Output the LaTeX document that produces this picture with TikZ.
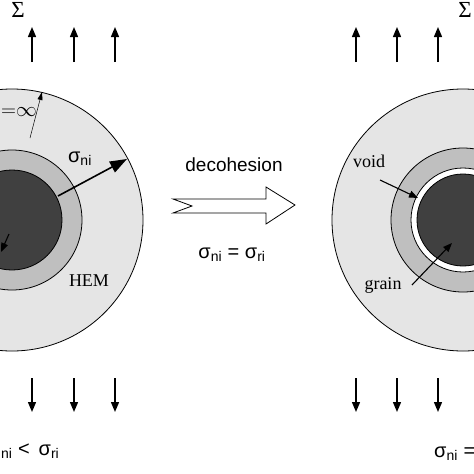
\documentclass[tikz,border=0pt]{standalone}
\usepackage{fontspec}
\setmainfont{Liberation Serif}
\setsansfont{Liberation Sans}
\usetikzlibrary{arrows.meta}

\begin{document}
\begin{tikzpicture}[x=1pt,y=-1pt,
    hem/.style={fill=black!10, draw=black, line width=0.8pt},
    interphase/.style={fill=black!25, draw=black, line width=0.8pt},
    grain/.style={fill=black!75, draw=black, line width=0.8pt},
    load/.style={line width=1.4pt, -{Triangle[length=10pt,width=8pt]}},
    pointer/.style={line width=1.1pt, -{Triangle[length=9pt,width=7pt]}},
    rmlabel/.style={font=\fontsize{18}{20}\selectfont, inner sep=0pt},
    sflabel/.style={font=\sffamily\fontsize{20}{22}\selectfont, inner sep=0pt}]
    \clip (0,0) rectangle (474,474);
    \fill[white] (0,0) rectangle (474,474);
    % left inclusion, interface intact
    \coordinate (L) at (12,220);
    \draw[hem] (L) circle[radius=131pt];
    \draw[interphase] (L) circle[radius=70pt];
    \draw[grain] (L) circle[radius=50pt];
    % right inclusion, grain debonded
    \coordinate (R) at (463,220);
    \draw[hem] (R) circle[radius=131pt];
    \draw[interphase] (R) circle[radius=72pt];
    \draw[fill=white, line width=0.8pt] (R) circle[radius=52pt];
    \draw[grain] (R) circle[radius=46pt];
    % far field loading
    \foreach \x in {32,74,115,356,397,438} {
        \draw[load] (\x,62) -- (\x,27);
        \draw[load] (\x,378) -- (\x,412);
    }
    \node[rmlabel, font=\fontsize{23}{25}\selectfont] (sigL) at (18,10) {Σ};
    \node[rmlabel, font=\fontsize{23}{25}\selectfont] (sigR) at (465,10) {Σ};
    % left labels
    \node[rmlabel, font=\fontsize{20}{22}\selectfont, anchor=west] (inf) at (1,112) {$\mathord{=}\infty$};
    \coordinate (radfrom) at (30,138);
    \coordinate (radto) at (42,92);
    \draw[line width=0.5pt, -{Triangle[length=8pt,width=5pt]}] (radfrom) -- (radto);
    \coordinate (rL) at (9,234);
    \coordinate (rLtip) at (1,252);
    \draw[pointer] (rL) -- (rLtip);
    \node[sflabel] (sni) at (80,159) {σ\textsubscript{ni}};
    \coordinate (snifrom) at (58,196);
    \coordinate (snito) at (127,159);
    \draw[line width=1.6pt, -{Triangle[length=17pt,width=12pt]}] (snifrom) -- (snito);
    \node[rmlabel] (hem) at (89,281) {HEM};
    \node[sflabel, anchor=base west] (condL) at (1,455) {\textsubscript{ni} <\, σ\textsubscript{ri}};
    % decohesion step
    \node[sflabel, font=\sffamily\fontsize{19}{22}\selectfont] (deco) at (234,165) {decohesion};
    \draw[line width=0.8pt, fill=white] (173,199) -- (266,199) -- (266,187) -- (295,205)
        -- (266,224) -- (266,213) -- (173,213) -- (192,206) -- cycle;
    \node[sflabel, anchor=base] (crit) at (232,258) {σ\textsubscript{ni} = σ\textsubscript{ri}};
    % right labels
    \node[rmlabel] (void) at (369,161) {void};
    \coordinate (voidfrom) at (380,180);
    \coordinate (voidto) at (418,198);
    \draw[pointer] (voidfrom) -- (voidto);
    \node[rmlabel] (grainlbl) at (383,285) {grain};
    \coordinate (grainfrom) at (412,285);
    \coordinate (grainto) at (452,243);
    \draw[pointer] (grainfrom) -- (grainto);
    \node[sflabel, anchor=base west] (condR) at (434,457) {σ\textsubscript{ni} =};
\end{tikzpicture}
\end{document}
